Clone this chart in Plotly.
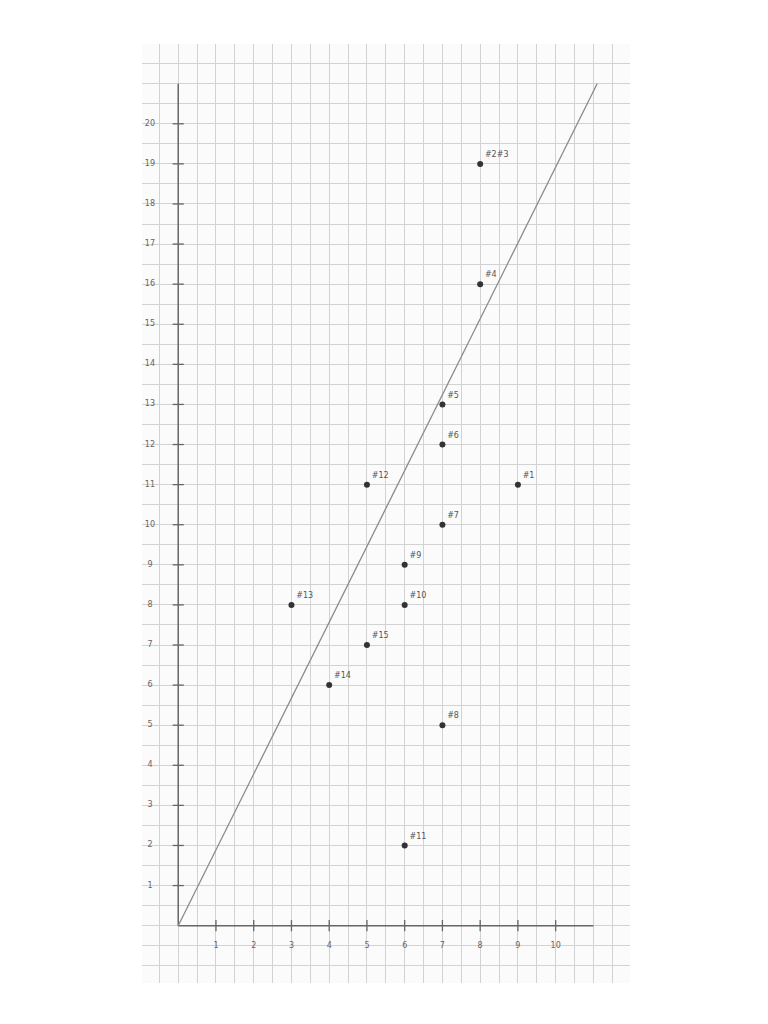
import plotly.graph_objects as go

# hand plotted points (x, y) with their tags
pt_x = [8, 8, 7, 7, 9, 5, 7, 6, 6, 3, 5, 4, 7, 6]
pt_y = [19, 16, 13, 12, 11, 11, 10, 9, 8, 8, 7, 6, 5, 2]
pt_tags = ["#2#3", "#4", "#5", "#6", "#1", "#12", "#7", "#9", "#10",
           "#13", "#15", "#14", "#8", "#11"]

# straight reference line drawn from the origin
line_x = [0, 11.1]
line_y = [0, 21]

x_ticks = list(range(1, 11))
y_ticks = list(range(1, 21))

fig = go.Figure()

# axes drawn by hand, not full-width
fig.add_trace(go.Scatter(x=[0, 0], y=[0, 21], mode="lines",
                         line=dict(color="#666", width=1.5), hoverinfo="skip"))
fig.add_trace(go.Scatter(x=[0, 11], y=[0, 0], mode="lines",
                         line=dict(color="#666", width=1.5), hoverinfo="skip"))

# tick marks
fig.add_trace(go.Scatter(x=[0] * len(y_ticks), y=y_ticks, mode="markers",
                         marker=dict(symbol="line-ew", size=8,
                                     line=dict(color="#666", width=1.3)),
                         hoverinfo="skip"))
fig.add_trace(go.Scatter(x=x_ticks, y=[0] * len(x_ticks), mode="markers",
                         marker=dict(symbol="line-ns", size=8,
                                     line=dict(color="#666", width=1.3)),
                         hoverinfo="skip"))

# tick labels
fig.add_trace(go.Scatter(x=[-0.75] * len(y_ticks), y=y_ticks, mode="text",
                         text=[str(v) for v in y_ticks],
                         textfont=dict(size=8, color="#666", family="DejaVu Sans"),
                         hoverinfo="skip"))
fig.add_trace(go.Scatter(x=x_ticks, y=[-0.5] * len(x_ticks), mode="text",
                         text=[str(v) for v in x_ticks],
                         textfont=dict(size=8, color="#666", family="DejaVu Sans"),
                         hoverinfo="skip"))

# reference line
fig.add_trace(go.Scatter(x=line_x, y=line_y, mode="lines",
                         line=dict(color="#8a8a8a", width=1.3), hoverinfo="skip"))

# points with tags
fig.add_trace(go.Scatter(x=pt_x, y=pt_y, mode="markers+text",
                         text=pt_tags, textposition="top right",
                         textfont=dict(size=8, color="#555", family="DejaVu Sans"),
                         marker=dict(size=6, color="#333")))

fig.update_layout(
    width=768, height=1024,
    margin=dict(l=134, r=146, t=36, b=49),
    paper_bgcolor="white", plot_bgcolor="#fbfbfb",
    showlegend=False,
    xaxis=dict(range=[-0.96, 11.97], dtick=0.5, tick0=0, showgrid=True,
               gridcolor="#d2d2d2", gridwidth=1, zeroline=False,
               showticklabels=False, ticks=""),
    yaxis=dict(range=[-1.43, 21.99], dtick=0.5, tick0=0, showgrid=True,
               gridcolor="#d2d2d2", gridwidth=1, zeroline=False,
               showticklabels=False, ticks=""),
)

fig.write_html("out.html")
